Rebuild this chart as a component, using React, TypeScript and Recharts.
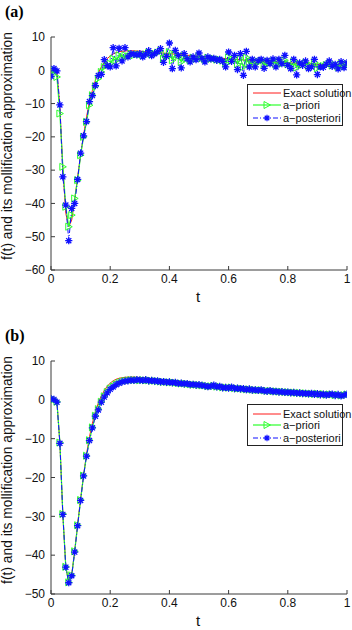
import React from "react";
import { LineChart, Line, XAxis, YAxis } from "recharts";

// sample grid (t = 0 .. 1, step 0.01)
const tGrid = [
  0, 0.01, 0.02, 0.03, 0.04, 0.05, 0.06, 0.07, 0.08, 0.09,
  0.1, 0.11, 0.12, 0.13, 0.14, 0.15, 0.16, 0.17, 0.18, 0.19,
  0.2, 0.21, 0.22, 0.23, 0.24, 0.25, 0.26, 0.27, 0.28, 0.29,
  0.3, 0.31, 0.32, 0.33, 0.34, 0.35, 0.36, 0.37, 0.38, 0.39,
  0.4, 0.41, 0.42, 0.43, 0.44, 0.45, 0.46, 0.47, 0.48, 0.49,
  0.5, 0.51, 0.52, 0.53, 0.54, 0.55, 0.56, 0.57, 0.58, 0.59,
  0.6, 0.61, 0.62, 0.63, 0.64, 0.65, 0.66, 0.67, 0.68, 0.69,
  0.7, 0.71, 0.72, 0.73, 0.74, 0.75, 0.76, 0.77, 0.78, 0.79,
  0.8, 0.81, 0.82, 0.83, 0.84, 0.85, 0.86, 0.87, 0.88, 0.89,
  0.9, 0.91, 0.92, 0.93, 0.94, 0.95, 0.96, 0.97, 0.98, 0.99,
  1,
];

// exact solution f(t)
const exactT = [
  0, 0.01, 0.02, 0.03, 0.04, 0.05, 0.06, 0.07, 0.08, 0.09,
  0.1, 0.11, 0.12, 0.13, 0.14, 0.15, 0.16, 0.17, 0.18, 0.19,
  0.2, 0.21, 0.22, 0.23, 0.24, 0.25, 0.26, 0.27, 0.28, 0.29,
  0.3, 0.35, 0.4, 0.45, 0.5, 0.55, 0.6, 0.65, 0.7, 0.75,
  0.8, 0.85, 0.9, 0.95, 1,
];
const exactF = [
  0, 0, -0.5, -11, -29.5, -43, -47, -45, -39, -32,
  -25.5, -19.5, -14, -9.5, -6, -3, -0.8, 1, 2.4, 3.5,
  4.3, 4.9, 5.3, 5.55, 5.7, 5.8, 5.85, 5.85, 5.85, 5.8,
  5.75, 5.4, 5.0, 4.6, 4.2, 3.8, 3.45, 3.1, 2.8, 2.5,
  2.25, 2.0, 1.8, 1.6, 1.4,
];

// panel (a)
const prioriA = [
  -0.5, 0, -2, -13, -29, -41, -47, -43.5, -38.5, -33,
  -25.5, -20, -15.5, -10.5, -7.5, -4.8, -2.5, -0.5, 1.0, 1.5,
  2.0, 3.5, 3.0, 4.5, 3.8, 4.5, 4.2, 5.0, 4.5, 4.8,
  4.8, 4.5, 4.8, 5.3, 4.8, 5.0, 5.3, 5.8, 3.5, 4.2,
  5.5, 3.0, 4.8, 4.3, 2.5, 4.3, 3.6, 3.0, 3.8, 3.4,
  4.2, 3.6, 3.2, 3.8, 3.4, 3.5, 3.2, 3.2, 2.9, 2.0,
  3.9, 2.8, 3.5, 1.8, 3.5, 1.0, 3.8, 1.8, 2.9, 1.8,
  2.6, 2.8, 1.6, 2.6, 2.2, 2.7, 1.7, 2.7, 2.0, 3.0,
  1.9, 1.4, 2.5, 0.8, 2.0, 1.7, 2.2, 1.3, 1.4, 2.4,
  0.6, 1.3, 1.3, 1.6, 2.0, 1.4, 1.6, 1.0, 1.9, 1.2,
  1.9,
];
const posterioriA = [
  -1.8, 0.5, -0.2, -10.4, -32, -40.5, -51.2, -41.5, -40, -32.8,
  -24.9, -19.7, -15.4, -9.4, -7.6, -4.6, -1.6, -1.2, 3.2, 1.4,
  1.0, 6.8, 1.3, 6.6, 2.8, 6.8, 4.0, 5.0, 4.8, 4.6,
  5.0, 4.0, 4.8, 5.9, 4.4, 5.0, 5.6, 6.5, 2.4, 4.2,
  8.2, 0.5, 6.0, 4.5, 0.7, 5.0, 3.5, 2.5, 4.0, 3.2,
  5.2, 3.6, 2.5, 4.0, 3.4, 3.6, 3.0, 3.3, 2.7, 1.0,
  5.5, 2.7, 4.5, 0.2, 5.0, -1.5, 5.7, 1.0, 3.3, 1.0,
  2.9, 3.3, 0.6, 3.0, 2.0, 3.4, 1.0, 3.3, 2.0, 4.5,
  1.5, 0.5, 3.3, -1.4, 2.2, 1.5, 2.8, 0.5, 1.0, 3.3,
  -1.3, 1.0, 0.9, 1.8, 2.8, 1.2, 1.8, 0.4, 2.6, 0.8,
  2.3,
];

// panel (b)
const prioriB = [
  0.2, 0.1, -0.5, -11.0, -29.4, -43.0, -47.0, -45.2, -39.0, -32.3,
  -25.8, -19.5, -14.4, -10.4, -7.1, -4.1, -2.4, -0.5, 0.9, 2.0,
  2.9, 3.5, 4.0, 4.4, 4.7, 4.9, 5.0, 5.1, 5.1, 5.1,
  5.0, 5.1, 5.0, 5.0, 4.9, 4.9, 4.8, 4.7, 4.6, 4.6,
  4.5, 4.5, 4.4, 4.3, 4.2, 4.2, 4.1, 4.0, 3.9, 3.9,
  3.8, 3.7, 3.7, 3.5, 3.5, 3.6, 3.4, 3.4, 3.2, 3.2,
  3.1, 3.2, 3.0, 2.9, 2.9, 2.8, 2.7, 2.7, 2.6, 2.5,
  2.5, 2.5, 2.4, 2.3, 2.3, 2.2, 2.2, 2.1, 2.1, 2.0,
  2.0, 1.9, 1.9, 1.8, 1.8, 1.7, 1.7, 1.6, 1.6, 1.5,
  1.6, 1.4, 1.5, 1.3, 1.4, 1.4, 1.2, 1.3, 1.1, 1.2,
  1.4,
];
const posterioriB = [
  0.3, 0.1, -0.6, -11.2, -29.5, -43.1, -47.1, -45.3, -39.2, -32.4,
  -25.9, -19.6, -14.5, -10.5, -7.2, -4.2, -2.6, -0.6, 0.7, 1.8,
  2.7, 3.3, 3.9, 4.3, 4.6, 4.8, 4.9, 5.1, 5.0, 5.2,
  5.1, 5.0, 5.2, 4.9, 5.0, 4.8, 4.9, 4.6, 4.7, 4.5,
  4.6, 4.4, 4.5, 4.2, 4.3, 4.1, 4.2, 3.9, 4.0, 3.8,
  3.9, 3.7, 3.6, 3.4, 3.5, 3.8, 3.3, 3.5, 3.1, 3.2,
  3.0, 3.3, 2.9, 3.0, 2.8, 2.9, 2.6, 2.8, 2.5, 2.6,
  2.4, 2.6, 2.3, 2.2, 2.4, 2.1, 2.2, 2.0, 2.1, 1.9,
  2.0, 1.8, 1.9, 1.7, 1.8, 1.6, 1.7, 1.5, 1.7, 1.4,
  1.6, 1.3, 1.5, 1.2, 1.4, 1.5, 1.1, 1.4, 1.0, 1.2,
  1.5,
];

const xTicks = [0, 0.2, 0.4, 0.6, 0.8, 1];
const yTicksA = [-60, -50, -40, -30, -20, -10, 0, 10];
const yTicksB = [-50, -40, -30, -20, -10, 0, 10];
const legendLabels = ["Exact solution", "a\u2212priori", "a\u2212posteriori"];

const RED = "#ff1a1a";
const GREEN = "#2cff2c";
const BLUE = "#1010ff";
const AXIS = "#3a3a3a";
const FONT = "'Liberation Sans', Arial, sans-serif";

const toPoints = (xs: number[], ys: number[]) =>
  xs.map((t, i) => ({ t, v: ys[i] }));

const fmt = (v: number) => (v < 0 ? `\u2212${Math.abs(v)}` : String(v));

function TriangleDot(props: any) {
  const { cx, cy, index } = props;
  if (cx == null || cy == null) return <g key={`tri-${index}`} />;
  return (
    <path
      key={`tri-${index}`}
      d={`M${cx - 3},${cy - 3.5}L${cx + 3.5},${cy}L${cx - 3},${cy + 3.5}Z`}
      fill="none"
      stroke={GREEN}
      strokeWidth={1}
    />
  );
}

function starPath(cx: number, cy: number, r: number) {
  const d = r * 0.707;
  return (
    `M${cx - r},${cy}H${cx + r}M${cx},${cy - r}V${cy + r}` +
    `M${cx - d},${cy - d}L${cx + d},${cy + d}M${cx - d},${cy + d}L${cx + d},${cy - d}`
  );
}

function StarDot(props: any) {
  const { cx, cy, index } = props;
  if (cx == null || cy == null) return <g key={`star-${index}`} />;
  return (
    <g key={`star-${index}`}>
      <path d={starPath(cx, cy, 3.6)} stroke={BLUE} strokeWidth={1.3} />
      <circle cx={cx} cy={cy} r={1.7} fill={BLUE} />
    </g>
  );
}

function LegendBox({ left, top, rows }: { left: number; top: number; rows: number[] }) {
  return (
    <div
      style={{
        position: "absolute",
        left,
        top,
        width: 96,
        height: 42,
        boxSizing: "border-box",
        border: "1px solid #222",
        background: "#fff",
        fontFamily: FONT,
        fontSize: 11,
        color: "#111",
      }}
    >
      {legendLabels.map((label, i) => (
        <div
          key={label}
          style={{ position: "absolute", left: 0, top: rows[i] - 7, height: 14, width: 94 }}
        >
          <svg width={30} height={14} style={{ position: "absolute", left: 4, top: 0 }}>
            {i === 0 && <line x1={1} y1={7} x2={29} y2={7} stroke={RED} strokeWidth={1} />}
            {i === 1 && (
              <>
                <line x1={1} y1={7} x2={29} y2={7} stroke={GREEN} strokeWidth={1.2} />
                <path d="M12,3.5L18.5,7L12,10.5Z" fill="none" stroke={GREEN} strokeWidth={1} />
              </>
            )}
            {i === 2 && (
              <>
                <line
                  x1={1}
                  y1={7}
                  x2={29}
                  y2={7}
                  stroke={BLUE}
                  strokeWidth={1}
                  strokeDasharray="5 2 1 2"
                />
                <path d={starPath(15, 7, 3.2)} stroke={BLUE} strokeWidth={1.2} />
                <circle cx={15} cy={7} r={1.5} fill={BLUE} />
              </>
            )}
          </svg>
          <span
            style={{ position: "absolute", left: 35, top: 0, lineHeight: "14px", whiteSpace: "nowrap" }}
          >
            {label}
          </span>
        </div>
      ))}
    </div>
  );
}

function Panel({
  top,
  letter,
  yDomain,
  yTicks,
  priori,
  posteriori,
  legendTop,
  legendRows,
}: {
  top: number;
  letter: string;
  yDomain: [number, number];
  yTicks: number[];
  priori: number[];
  posteriori: number[];
  legendTop: number;
  legendRows: number[];
}) {
  const tickStyle = { fontSize: 12, fill: "#111", fontFamily: FONT };
  return (
    <div style={{ position: "absolute", left: 0, top, width: 352, height: 306 }}>
      <div
        style={{
          position: "absolute",
          left: 5,
          top: 3,
          fontFamily: "'Liberation Serif', 'Times New Roman', serif",
          fontWeight: "bold",
          fontSize: 16,
        }}
      >
        {letter}
      </div>
      <div style={{ position: "absolute", left: 0, top: 0 }}>
        <LineChart
          width={352}
          height={290}
          margin={{ top: 37, right: 5, bottom: 0, left: 0 }}
        >
          <XAxis
            xAxisId="bottom"
            dataKey="t"
            type="number"
            domain={[0, 1]}
            ticks={xTicks}
            interval={0}
            allowDataOverflow
            height={20}
            tickSize={-4}
            tickMargin={8}
            tick={tickStyle}
            tickFormatter={fmt}
            stroke={AXIS}
          />
          <XAxis
            xAxisId="top"
            orientation="top"
            type="number"
            domain={[0, 1]}
            ticks={xTicks}
            interval={0}
            allowDataOverflow
            height={0}
            tickSize={-4}
            tick={false}
            stroke={AXIS}
          />
          <YAxis
            yAxisId="left"
            type="number"
            domain={yDomain}
            ticks={yTicks}
            interval={0}
            allowDataOverflow
            width={51}
            tickSize={-4}
            tickMargin={10}
            tick={tickStyle}
            tickFormatter={fmt}
            stroke={AXIS}
          />
          <YAxis
            yAxisId="right"
            orientation="right"
            type="number"
            domain={yDomain}
            ticks={yTicks}
            interval={0}
            allowDataOverflow
            width={0}
            tickSize={-4}
            tick={false}
            stroke={AXIS}
          />
          <Line
            xAxisId="bottom"
            yAxisId="left"
            data={toPoints(exactT, exactF)}
            dataKey="v"
            type="linear"
            stroke={RED}
            strokeWidth={1}
            dot={false}
            isAnimationActive={false}
          />
          <Line
            xAxisId="bottom"
            yAxisId="left"
            data={toPoints(tGrid, priori)}
            dataKey="v"
            type="linear"
            stroke={GREEN}
            strokeWidth={1.2}
            dot={TriangleDot}
            isAnimationActive={false}
          />
          <Line
            xAxisId="bottom"
            yAxisId="left"
            data={toPoints(tGrid, posteriori)}
            dataKey="v"
            type="linear"
            stroke={BLUE}
            strokeWidth={1}
            strokeDasharray="5 2 1 2"
            dot={StarDot}
            isAnimationActive={false}
          />
        </LineChart>
      </div>
      <LegendBox left={247} top={legendTop} rows={legendRows} />
      <div
        style={{
          position: "absolute",
          left: 8 - 130,
          top: 146 - 9,
          width: 260,
          height: 18,
          lineHeight: "18px",
          textAlign: "center",
          transform: "rotate(-90deg)",
          fontFamily: FONT,
          fontSize: 13.8,
          color: "#111",
          whiteSpace: "nowrap",
        }}
      >
        f(t) and its mollification approximation
      </div>
      <div
        style={{
          position: "absolute",
          left: 189,
          top: 288,
          width: 18,
          textAlign: "center",
          fontFamily: FONT,
          fontSize: 15,
          color: "#111",
        }}
      >
        t
      </div>
    </div>
  );
}

export default function App() {
  return (
    <div
      style={{
        position: "absolute",
        left: 0,
        top: 0,
        width: 352,
        height: 630,
        background: "#fff",
        overflow: "hidden",
      }}
    >
      <Panel
        top={0}
        letter="(a)"
        yDomain={[-60, 10]}
        yTicks={yTicksA}
        priori={prioriA}
        posteriori={posterioriA}
        legendTop={84}
        legendRows={[8, 20, 33]}
      />
      <Panel
        top={324}
        letter="(b)"
        yDomain={[-50, 10]}
        yTicks={yTicksB}
        priori={prioriB}
        posteriori={posterioriB}
        legendTop={80}
        legendRows={[9, 20, 33]}
      />
    </div>
  );
}
